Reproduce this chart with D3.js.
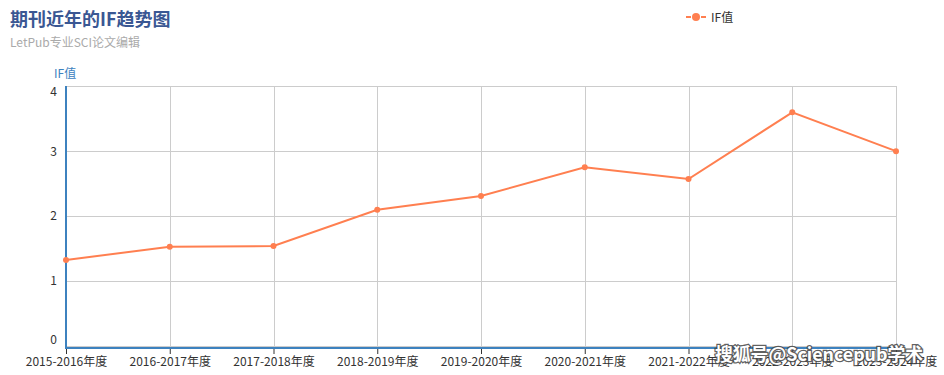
<!DOCTYPE html>
<html><head><meta charset="utf-8">
<script src="https://cdn.jsdelivr.net/npm/d3@7"></script>
<style>
html,body{margin:0;padding:0;background:#fff;}
svg{display:block;font-family:"Noto Sans CJK SC","Noto Sans",sans-serif;}
</style></head>
<body><svg id="c" width="944" height="375"></svg>
<script>
const categories = ["2015-2016年度","2016-2017年度","2017-2018年度","2018-2019年度","2019-2020年度","2020-2021年度","2021-2022年度","2022-2023年度","2023-2024年度"];
const ifValues = [1.323, 1.528, 1.538, 2.097, 2.308, 2.749, 2.569, 3.595, 2.998];
const yTicks = [0, 1, 2, 3, 4];
const titleText = "期刊近年的IF趋势图";
const subtitleText = "LetPub专业SCI论文编辑";
const seriesName = "IF值";
const watermark = "搜狐号@Sciencepub学术";

(function () {
const svg = d3.select("#c");
const pL = 66, pR = 896, pT = 86, pB = 346;
const x = d3.scalePoint().domain(categories).range([pL, pR]);
const y = d3.scaleLinear().domain([0, 4]).range([pB, pT]);

// title
svg.append("text").attr("x", 10).attr("y", 26).attr("font-size", 18).attr("font-weight", "bold")
  .attr("fill", "#3a5793").text(titleText);
svg.append("text").attr("x", 10).attr("y", 47).attr("font-size", 12).attr("fill", "#aaa").text(subtitleText);

// legend
const lg = svg.append("g").attr("transform", "translate(686,17)");
lg.append("line").attr("x1", 0).attr("x2", 20).attr("y1", 0).attr("y2", 0).attr("stroke", "#ff7f50").attr("stroke-width", 2).attr("stroke-dasharray", "5,10,5");
lg.append("circle").attr("cx", 10).attr("cy", 0).attr("r", 4).attr("fill", "#ff7f50");
lg.append("text").attr("x", 25).attr("y", 4.5).attr("font-size", 12).attr("fill", "#333").text(seriesName);

// grid
const grid = svg.append("g");
grid.selectAll(".hg").data(yTicks).join("line")
  .attr("x1", pL).attr("x2", pR).attr("y1", d => y(d) + 0.5).attr("y2", d => y(d) + 0.5)
  .attr("stroke", "#ccc").attr("stroke-width", 1);
grid.selectAll(".vg").data(categories).join("line")
  .attr("x1", d => Math.round(x(d)) + 0.5).attr("x2", d => Math.round(x(d)) + 0.5)
  .attr("y1", pT).attr("y2", pB).attr("stroke", "#ccc").attr("stroke-width", 1);

// y axis labels
const yOff = {4: 5, 3: 0, 2: -1, 1: -1, 0: -7};
svg.append("g").selectAll("text").data(yTicks).join("text")
  .attr("x", 57).attr("y", d => y(d) + yOff[d] + 4.5).attr("text-anchor", "end")
  .attr("font-size", 12).attr("fill", "#333").text(d => d);
svg.append("text").attr("x", 54).attr("y", 78).attr("font-size", 12).attr("fill", "#3d82bf").text(seriesName);

// axes lines
svg.append("line").attr("x1", pL).attr("x2", pL).attr("y1", pT).attr("y2", pB + 3)
  .attr("stroke", "#3d82bf").attr("stroke-width", 2);
svg.append("line").attr("x1", pL - 1).attr("x2", pR).attr("y1", pB + 2).attr("y2", pB + 2)
  .attr("stroke", "#3d82bf").attr("stroke-width", 2);

// x axis
const xa = svg.append("g").attr("transform", `translate(0,${pB + 3})`)
  .call(d3.axisBottom(x).tickSize(5).tickPadding(3));
xa.select(".domain").remove();
xa.selectAll(".tick line").attr("stroke", "#333");
xa.selectAll(".tick text").attr("font-size", 12).attr("fill", "#333").attr("font-family", "\"Noto Sans CJK SC\",sans-serif");

// line
svg.append("path").datum(ifValues)
  .attr("d", d3.line().x((d, i) => x(categories[i])).y(d => y(d)))
  .attr("fill", "none").attr("stroke", "#ff7f50").attr("stroke-width", 2);
svg.append("g").selectAll("circle").data(ifValues).join("circle")
  .attr("cx", (d, i) => x(categories[i])).attr("cy", d => y(d)).attr("r", 3).attr("fill", "#ff7f50");

// watermark
svg.append("text").attr("x", 715).attr("y", 361).attr("font-size", 18).attr("font-weight", "bold")
  .attr("textLength", 208).attr("lengthAdjust", "spacingAndGlyphs")
  .attr("fill", "#fff").attr("stroke", "#444").attr("stroke-width", 2.5).attr("paint-order", "stroke")
  .attr("stroke-opacity", 0.85).text(watermark);
})();
</script></body></html>
